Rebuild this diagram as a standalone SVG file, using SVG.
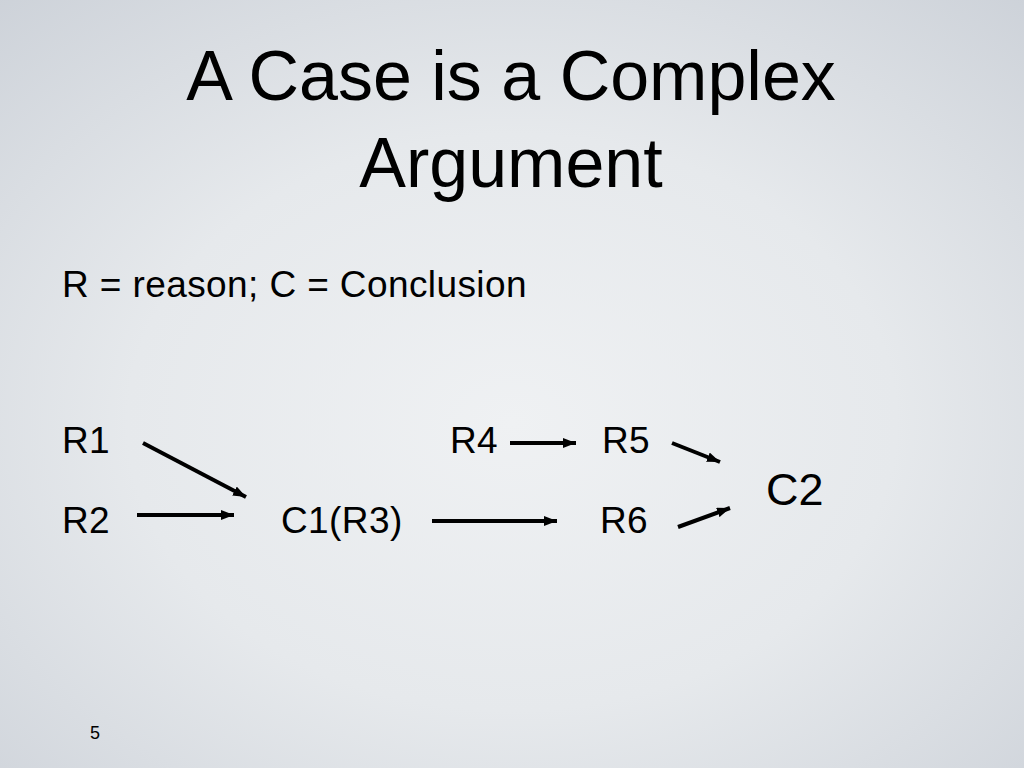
<svg xmlns="http://www.w3.org/2000/svg" width="1024" height="768" viewBox="0 0 1024 768">
<defs>
<radialGradient id="bg" cx="0.5" cy="0.55" r="0.75">
<stop offset="0" stop-color="#eff1f3"/>
<stop offset="0.5" stop-color="#e6e9ec"/>
<stop offset="1" stop-color="#cdd2d9"/>
</radialGradient>
<marker id="ah" viewBox="0 0 13 10" refX="13" refY="5" markerWidth="13" markerHeight="10" markerUnits="userSpaceOnUse" orient="auto">
<path d="M0,0 L13,5 L0,10 z" fill="#000"/>
</marker>
<style>
text{font-family:"Liberation Sans",Arial,sans-serif;fill:#000}
.t{font-size:70px;text-anchor:middle}
.n{font-size:37px;letter-spacing:0.4px}
.c{stroke:#000;stroke-width:4;fill:none;marker-end:url(#ah)}
</style>
</defs>
<rect width="1024" height="768" fill="url(#bg)"/>
<g id="title">
<text class="t" x="511" y="100">A Case is a Complex</text>
<text class="t" x="511" y="187">Argument</text>
</g>
<text class="n" x="62" y="297">R = reason; C = Conclusion</text>
<g id="R1"><text class="n" x="62" y="453">R1</text></g>
<g id="R2"><text class="n" x="62" y="533">R2</text></g>
<g id="C1"><text class="n" x="281" y="533">C1(R3)</text></g>
<g id="R4"><text class="n" x="450" y="453">R4</text></g>
<g id="R5"><text class="n" x="602" y="453">R5</text></g>
<g id="R6"><text class="n" x="600" y="533">R6</text></g>
<g id="C2"><text x="766" y="505" style="font-size:45px">C2</text></g>
<g id="connectors">
<line class="c" x1="143" y1="443" x2="246" y2="497"/>
<line class="c" x1="137" y1="515" x2="234" y2="515"/>
<line class="c" x1="432" y1="521" x2="557" y2="521"/>
<line class="c" x1="510" y1="443" x2="576" y2="443"/>
<line class="c" x1="672" y1="443" x2="720" y2="462"/>
<line class="c" x1="678" y1="527" x2="730" y2="508"/>
</g>
<text x="90" y="739" style="font-size:18px">5</text>
</svg>
